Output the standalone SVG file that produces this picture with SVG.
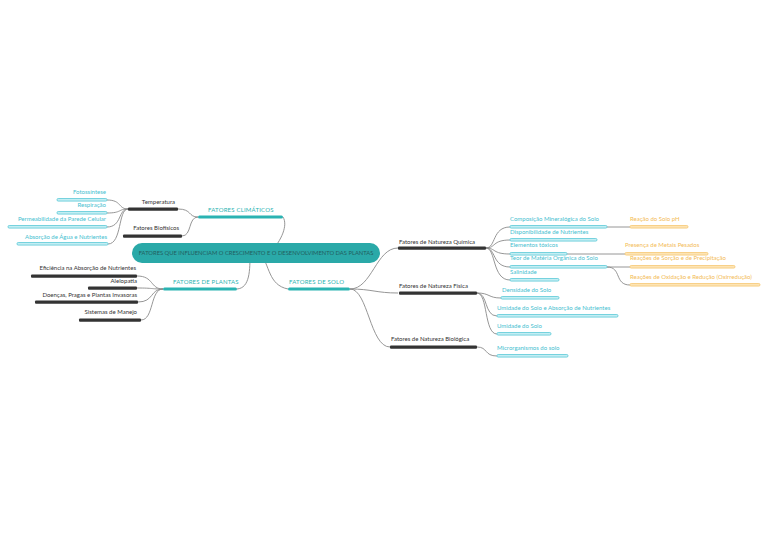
<svg xmlns="http://www.w3.org/2000/svg" width="768" height="543" viewBox="0 0 768 543">
<defs>
<style>
text{font-family:Lato,"Open Sans","Liberation Sans",sans-serif;font-size:6px;font-weight:400}
.dark{fill:#333}
.cy{fill:#45c0d0}
.or{fill:#f3bb55}
.main{fill:#2ab3b2;font-size:6px;letter-spacing:0.2px}
.center{fill:#235e5f;font-size:5.8px}
.bk{fill:#333}
.tb{fill:#2ab3b2}
.cb{fill:#c4eef3;stroke:#5bc9d7;stroke-width:0.8}
.ob{fill:#fde4b4;stroke:#f6c874;stroke-width:0.8}
.con path{fill:none;stroke:#8a8a8a;stroke-width:0.9}
</style>
</defs>
<rect width="768" height="543" fill="#fff"/>
<g class="con">
<path d="M270 253 C 282 240, 288 225, 283 217"/>
<path d="M260 253 C 270 265, 268 285, 288 289"/>
<path d="M250 253 C 250 270, 250 288, 237 289"/>
<path d="M198 217 C 188 217, 192 209, 178 209"/>
<path d="M198 217 C 188 217, 192 236, 182 236"/>
<path d="M128 209 C 118 209, 122 200, 107 200"/>
<path d="M128 209 C 118 209, 122 213, 107 213"/>
<path d="M128 209 C 118 209, 122 227, 107 227"/>
<path d="M128 209 C 118 209, 122 244, 108 244"/>
<path d="M163 289 C 150 289, 154 276, 137 276"/>
<path d="M163 289 C 150 289, 154 288, 137 288"/>
<path d="M163 289 C 150 289, 154 302, 138 302"/>
<path d="M163 289 C 150 289, 154 320, 141 320"/>
<path d="M350 289 C 372 289, 376 248, 398 248"/>
<path d="M350 289 C 372 289, 376 293, 398 293"/>
<path d="M350 289 C 368 289, 370 347, 390 347"/>
<path d="M486 248 C 496 248, 492 227, 510 227"/>
<path d="M486 248 C 496 248, 492 240, 510 240"/>
<path d="M486 248 C 496 248, 492 254, 510 254"/>
<path d="M486 248 C 496 248, 492 267, 510 267"/>
<path d="M486 248 C 496 248, 492 280, 510 280"/>
<path d="M607 227 L 630 227"/>
<path d="M567 254 L 625 254"/>
<path d="M607 267 L 630 267"/>
<path d="M607 267 C 622 267, 614 285, 630 285"/>
<path d="M477 293 C 490 293, 488 298, 501 298"/>
<path d="M477 293 C 488 293, 484 316, 497 316"/>
<path d="M477 293 C 488 293, 484 334, 497 334"/>
<path d="M477 347 C 488 347, 484 356, 497 356"/>
</g>

<g id="central">
<rect x="132" y="243" width="248" height="20" rx="10" fill="#2aa9a8"/>
<text class="center" x="256" y="255" text-anchor="middle">FATORES QUE INFLUENCIAM O CRESCIMENTO E O DESENVOLVIMENTO DAS PLANTAS</text>
</g>

<g id="climaticos">
<text class="main" x="208" y="212">FATORES CLIMÁTICOS</text>
<rect class="tb" x="198" y="215.5" width="85" height="3" rx="1.5"/>
</g>
<g id="plantas">
<text class="main" x="173" y="284">FATORES DE PLANTAS</text>
<rect class="tb" x="163" y="287.5" width="74" height="3" rx="1.5"/>
</g>
<g id="solo">
<text class="main" x="289" y="284">FATORES DE SOLO</text>
<rect class="tb" x="288" y="287.5" width="62" height="3" rx="1.5"/>
</g>

<g id="temperatura">
<text class="dark" x="175" y="204" text-anchor="end">Temperatura</text>
<rect class="bk" x="128" y="207.5" width="50" height="3.2" rx="1"/>
</g>
<g id="biofisicos">
<text class="dark" x="179" y="230" text-anchor="end">Fatores Biofísicos</text>
<rect class="bk" x="123" y="234.5" width="59" height="3.2" rx="1"/>
</g>
<g id="fotossintese">
<text class="cy" x="106" y="194" text-anchor="end">Fotossíntese</text>
<rect class="cb" x="57" y="198.5" width="50" height="2.6" rx="1.2"/>
</g>
<g id="respiracao">
<text class="cy" x="106" y="207" text-anchor="end">Respiração</text>
<rect class="cb" x="57" y="211.5" width="50" height="2.6" rx="1.2"/>
</g>
<g id="permeabilidade">
<text class="cy" x="106" y="221" text-anchor="end">Permeabilidade da Parede Celular</text>
<rect class="cb" x="8" y="225.5" width="99" height="2.6" rx="1.2"/>
</g>
<g id="absorcao">
<text class="cy" x="107" y="239" text-anchor="end">Absorção de Água e Nutrientes</text>
<rect class="cb" x="17" y="242.5" width="91" height="2.6" rx="1.2"/>
</g>

<g id="eficiencia">
<text class="dark" x="136" y="270" text-anchor="end">Eficiência na Absorção de Nutrientes</text>
<rect class="bk" x="31" y="274.5" width="106" height="3.2" rx="1"/>
</g>
<g id="alelopatia">
<text class="dark" x="137" y="283" text-anchor="end">Alelopatia</text>
<rect class="bk" x="88" y="286.5" width="49" height="3.2" rx="1"/>
</g>
<g id="doencas">
<text class="dark" x="137" y="297" text-anchor="end">Doenças, Pragas e Plantas Invasoras</text>
<rect class="bk" x="35" y="300.5" width="103" height="3.2" rx="1"/>
</g>
<g id="manejo">
<text class="dark" x="137" y="314" text-anchor="end">Sistemas de Manejo</text>
<rect class="bk" x="79" y="318.5" width="62" height="3.2" rx="1"/>
</g>

<g id="quimica">
<text class="dark" x="399" y="244">Fatores de Natureza Química</text>
<rect class="bk" x="398" y="246.5" width="88" height="3.2" rx="1"/>
</g>
<g id="fisica">
<text class="dark" x="399" y="288">Fatores de Natureza Física</text>
<rect class="bk" x="399" y="291.5" width="78" height="3.2" rx="1"/>
</g>
<g id="biologica">
<text class="dark" x="391" y="341">Fatores de Natureza Biológica</text>
<rect class="bk" x="390" y="345.5" width="87" height="3.2" rx="1"/>
</g>

<g id="composicao">
<text class="cy" x="510" y="221">Composição Mineralógica do Solo</text>
<rect class="cb" x="510" y="225.5" width="97" height="2.6" rx="1.2"/>
</g>
<g id="disponibilidade">
<text class="cy" x="510" y="234">Disponibilidade de Nutrientes</text>
<rect class="cb" x="510" y="238.5" width="87" height="2.6" rx="1.2"/>
</g>
<g id="elementos">
<text class="cy" x="510" y="247">Elementos tóxicos</text>
<rect class="cb" x="510" y="252.5" width="57" height="2.6" rx="1.2"/>
</g>
<g id="teor">
<text class="cy" x="510" y="260">Teor de Matéria Orgânica do Solo</text>
<rect class="cb" x="510" y="265.5" width="97" height="2.6" rx="1.2"/>
</g>
<g id="salinidade">
<text class="cy" x="510" y="274">Salinidade</text>
<rect class="cb" x="510" y="278.5" width="49" height="2.6" rx="1.2"/>
</g>

<g id="ph">
<text class="or" x="630" y="221">Reação do Solo pH</text>
<rect class="ob" x="630" y="225.5" width="58" height="2.6" rx="1.2"/>
</g>
<g id="metais">
<text class="or" x="625" y="247">Presença de Metais Pesados</text>
<rect class="ob" x="625" y="252.5" width="83" height="2.6" rx="1.2"/>
</g>
<g id="sorcao">
<text class="or" x="630" y="260">Reações de Sorção e de Precipitação</text>
<rect class="ob" x="630" y="265.5" width="105" height="2.6" rx="1.2"/>
</g>
<g id="oxidacao">
<text class="or" x="630" y="279">Reações de Oxidação e Redução (Oxirredução)</text>
<rect class="ob" x="630" y="283.5" width="130" height="2.6" rx="1.2"/>
</g>

<g id="densidade">
<text class="cy" x="502" y="292">Densidade do Solo</text>
<rect class="cb" x="501" y="296.5" width="58" height="2.6" rx="1.2"/>
</g>
<g id="umidade-absorcao">
<text class="cy" x="497" y="310">Umidade do Solo e Absorção de Nutrientes</text>
<rect class="cb" x="497" y="314.5" width="121" height="2.6" rx="1.2"/>
</g>
<g id="umidade">
<text class="cy" x="497" y="328">Umidade do Solo</text>
<rect class="cb" x="497" y="332.5" width="54" height="2.6" rx="1.2"/>
</g>
<g id="microrganismos">
<text class="cy" x="497" y="350">Microrganismos do solo</text>
<rect class="cb" x="497" y="354.5" width="71" height="2.6" rx="1.2"/>
</g>
</svg>
